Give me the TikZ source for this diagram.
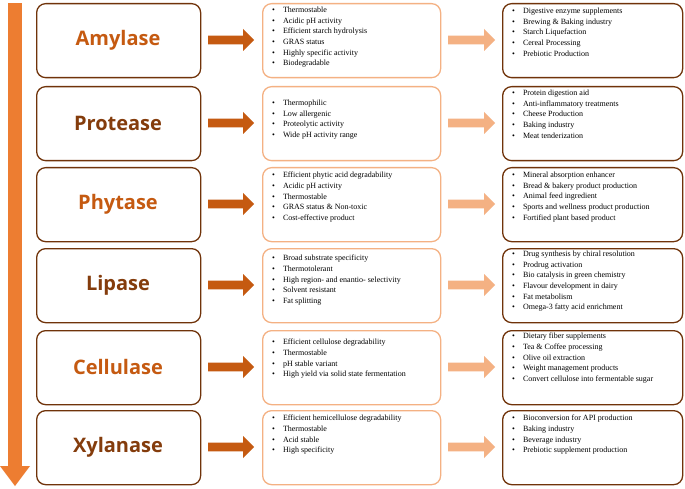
\documentclass[tikz,border=0pt]{standalone}
\usepackage{fontspec}
\setmainfont{Liberation Serif}
\newfontfamily\titlefont{Open Sans}
\usetikzlibrary{arrows.meta,shapes.arrows}
\definecolor{dbrown}{HTML}{843C0C}
\definecolor{orng}{HTML}{C55A11}
\definecolor{lorng}{HTML}{F4B183}
\definecolor{bar}{HTML}{ED7D31}
\begin{document}
\begin{tikzpicture}[x=1pt,y=-1pt,
  lbox/.style={draw=dbrown!85!black,line width=1.3pt,rounded corners=9pt,minimum width=164pt,minimum height=74pt,anchor=north west,inner sep=0pt},
  mbox/.style={draw=lorng,line width=1.3pt,rounded corners=9pt,minimum width=178pt,minimum height=74pt,anchor=north west,inner sep=0pt},
  rbox/.style={draw=dbrown!85!black,line width=1.3pt,rounded corners=9pt,minimum width=180pt,minimum height=74pt,anchor=north west,inner sep=0pt},
  ttl/.style={font=\titlefont\bfseries\fontsize{20}{24}\selectfont},
  lst/.style={anchor=north west,font=\fontsize{8}{10.6}\selectfont,align=left,inner sep=0pt},
  darr/.style={single arrow,draw=none,fill=orng,minimum height=46pt,minimum width=22pt,single arrow head extend=4pt,inner sep=2.5pt,anchor=west},
  larr/.style={single arrow,draw=none,fill=lorng,minimum height=47pt,minimum width=22pt,single arrow head extend=4pt,inner sep=2.5pt,anchor=west}]
\useasboundingbox (0,0) rectangle (685,489);
\fill[white] (0,0) rectangle (685,489);
\fill[bar] (8,3) rectangle (22,468);
\fill[bar] (0,466) -- (30,466) -- (15,486) -- cycle;
\newcommand{\bul}[1]{\textbullet\hspace{8pt}#1}
\foreach \t/\c/\y/\n/\mid/\rt/\mo/\ro in {
 Amylase/orng/3/a/{\bul{Thermostable}\\\bul{Acidic pH activity}\\\bul{Efficient starch hydrolysis}\\\bul{GRAS status}\\\bul{Highly specific activity}\\\bul{Biodegradable}}/{\bul{Digestive enzyme supplements}\\\bul{Brewing \& Baking industry}\\\bul{Starch Liquefaction}\\\bul{Cereal Processing}\\\bul{Prebiotic Production}}/4/5,
 Protease/dbrown/86/b/{\bul{Thermophilic}\\\bul{Low allergenic}\\\bul{Proteolytic activity}\\\bul{Wide pH activity range}}/{\bul{Protein digestion aid}\\\bul{Anti-inflammatory treatments}\\\bul{Cheese Production}\\\bul{Baking industry}\\\bul{Meat tenderization}}/14/4,
 Phytase/orng/167/c/{\bul{Efficient phytic acid degradability}\\\bul{Acidic pH activity}\\\bul{Thermostable}\\\bul{GRAS status \& Non-toxic}\\\bul{Cost-effective product}}/{\bul{Mineral absorption enhancer}\\\bul{Bread \& bakery product production}\\\bul{Animal feed ingredient}\\\bul{Sports and wellness product production}\\\bul{Fortified plant based product}}/5/5,
 Lipase/dbrown/248/d/{\bul{Broad substrate specificity}\\\bul{Thermotolerant}\\\bul{High region- and enantio- selectivity}\\\bul{Solvent resistant}\\\bul{Fat splitting}}/{\bul{Drug synthesis by chiral resolution}\\\bul{Prodrug activation}\\\bul{Bio catalysis in green chemistry}\\\bul{Flavour development in dairy}\\\bul{Fat metabolism}\\\bul{Omega-3 fatty acid enrichment}}/7/3,
 Cellulase/orng/330/e/{\bul{Efficient cellulose degradability}\\\bul{Thermostable}\\\bul{pH stable variant}\\\bul{High yield via solid state fermentation}}/{\bul{Dietary fiber supplements}\\\bul{Tea \& Coffee processing}\\\bul{Olive oil extraction}\\\bul{Weight management products}\\\bul{Convert cellulose into fermentable sugar}}/9/3,
 Xylanase/dbrown/410/f/{\bul{Efficient hemicellulose degradability}\\\bul{Thermostable}\\\bul{Acid stable}\\\bul{High specificity}}/{\bul{Bioconversion for API production}\\\bul{Baking industry}\\\bul{Beverage industry}\\\bul{Prebiotic supplement production}}/5/5}{
  \node[lbox] (L\n) at (36,\y) {};
  \node[ttl,text=\c] (T\n) at (118,\y+37) {\t};
  \node[mbox] (M\n) at (262,\y) {};
  \node[lst] (ML\n) at (272,\y+\mo) {\mid};
  \node[rbox] (R\n) at (502,\y) {};
  \node[lst] (RL\n) at (512,\y+\ro) {\rt};
  \node[darr] (A\n) at (208,\y+37) {};
  \node[larr] (B\n) at (448,\y+37) {};
}
\end{tikzpicture}
\end{document}
